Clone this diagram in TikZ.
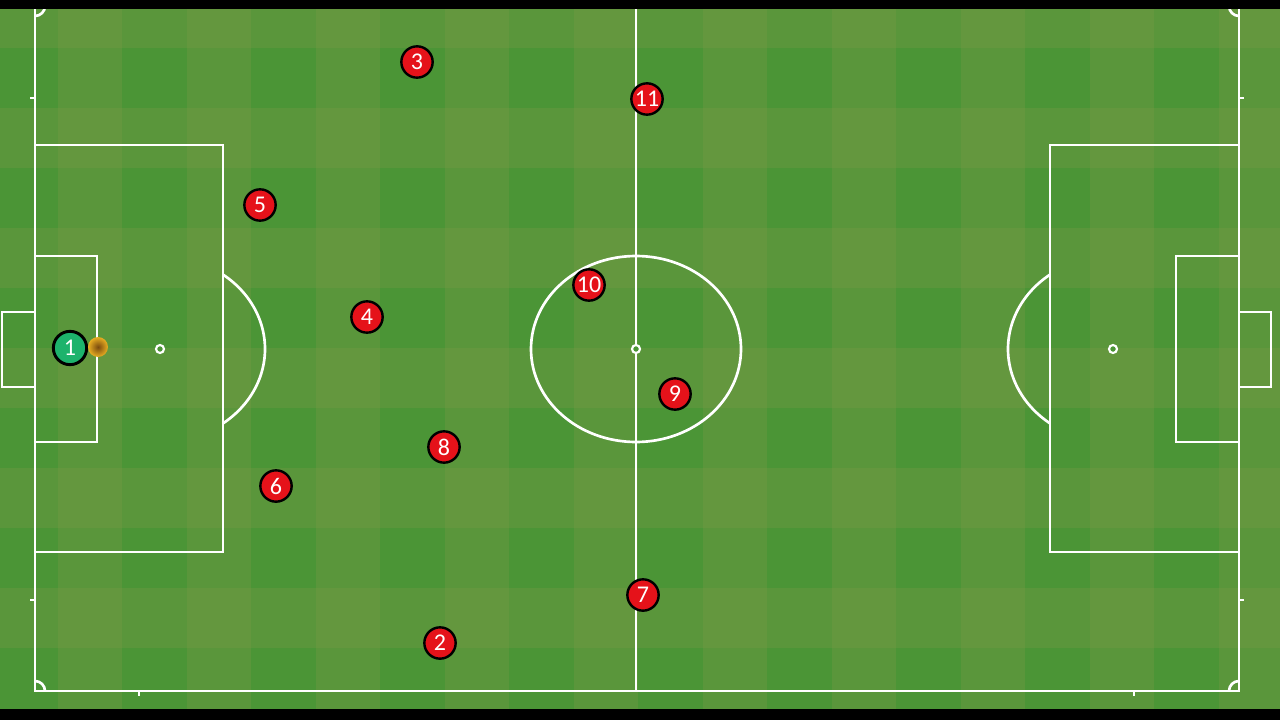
\documentclass[tikz,border=0pt]{standalone}
\usepackage{fontspec}
\setmainfont{Carlito}
\begin{document}
\begin{tikzpicture}[x=0.75pt,y=-0.75pt]
\definecolor{grassD}{HTML}{4B9536}
\definecolor{grassL}{HTML}{789A45}
\definecolor{pred}{HTML}{E5121A}
\definecolor{pgreen}{HTML}{1DB36C}
\definecolor{balldark}{HTML}{7A4A0E}
\definecolor{balllight}{HTML}{E8AE22}
\tikzset{
  fieldline/.style={draw=white, line width=2.0pt},
  tick/.style={draw=white, line width=1.6pt},
  spot/.style={circle, draw=white, fill=grassD, line width=1.6pt, minimum size=6pt, inner sep=0pt},
  player/.style={circle, fill=pred, draw=black, line width=1.8pt, minimum size=23.5pt, inner sep=0pt,
    text=white, font=\fontsize{18}{18}\selectfont},
  keeper/.style={player, fill=pgreen, line width=2.2pt, minimum size=25pt},
  ballstyle/.style={circle, minimum size=15pt, inner sep=0pt, inner color=balldark, outer color=balllight}
}
\useasboundingbox (0,0) rectangle (1280,720);
\fill[black] (0,0) rectangle (1280,720);
\fill[grassD] (0,9) rectangle (1280,709);
\begin{scope}
  \clip (0,9) rectangle (1280,709);
  \foreach \k in {0,...,9} \fill[grassL, opacity=.34] ({58+129*\k},9) rectangle ({122+129*\k},709);
  \foreach \j in {0,...,5} \fill[grassL, opacity=.34] (0,{-12+120*\j}) rectangle (1280,{48+120*\j});
\end{scope}
% outer lines
\draw[fieldline] (35,6) rectangle (1239,691);
\draw[fieldline] (636,6) -- (636,691);
% centre circle
\draw[fieldline] (636,349) ellipse [x radius=78.75pt, y radius=69.75pt];
% left end
\draw[fieldline] (35,145) rectangle (223,552);
\draw[fieldline] (35,256) rectangle (97,442);
\draw[fieldline] (35,312) -- (2,312) -- (2,387) -- (35,387);
\draw[fieldline] (223,274.6) arc[start angle=53.13, end angle=-53.13, x radius=78.75pt, y radius=69.75pt];
% right end
\draw[fieldline] (1239,145) rectangle (1050,552);
\draw[fieldline] (1239,256) rectangle (1176,442);
\draw[fieldline] (1239,312) -- (1271,312) -- (1271,387) -- (1239,387);
\draw[fieldline] (1050,274.6) arc[start angle=126.87, end angle=233.13, x radius=78.75pt, y radius=69.75pt];
% corner arcs
\draw[fieldline] (45,6) arc[start angle=0, end angle=-90, radius=7.5pt];
\draw[fieldline] (1229,6) arc[start angle=180, end angle=270, radius=7.5pt];
\draw[fieldline] (45,691) arc[start angle=0, end angle=90, radius=7.5pt];
\draw[fieldline] (1229,691) arc[start angle=180, end angle=90, radius=7.5pt];
% ticks
\draw[tick] (30,98) -- (35,98);
\draw[tick] (30,600) -- (35,600);
\draw[tick] (1239,98) -- (1244,98);
\draw[tick] (1239,600) -- (1244,600);
\draw[tick] (139,691) -- (139,696);
\draw[tick] (1134,691) -- (1134,696);
% spots
\node[spot] (lspot) at (160,349) {};
\node[spot] (rspot) at (1113,349) {};
\node[spot] (cspot) at (636,349) {};
% top black bar over the top line
\fill[black] (0,0) rectangle (1280,9);
% players
\node[keeper] (p1) at (70,348) {1};
\node[ballstyle] (ball) at (98,347) {};
\node[player] (p3) at (417,62) {3};
\node[player] (p11) at (647,99) {11};
\node[player] (p5) at (260,205) {5};
\node[player] (p10) at (589,285) {10};
\node[player] (p4) at (367,317) {4};
\node[player] (p9) at (675,394) {9};
\node[player] (p8) at (444,447) {8};
\node[player] (p6) at (276,486) {6};
\node[player] (p7) at (643,595) {7};
\node[player] (p2) at (440,643) {2};
\end{tikzpicture}
\end{document}
